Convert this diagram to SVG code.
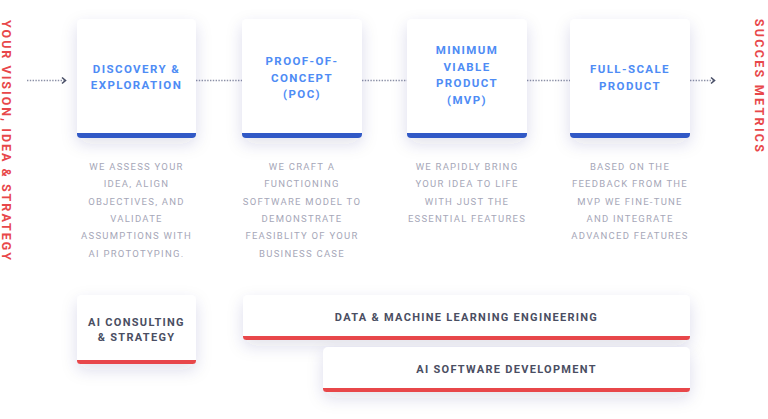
<svg xmlns="http://www.w3.org/2000/svg" width="768" height="419" viewBox="0 0 768 419">
<defs>
<filter id="sh" x="-40%" y="-40%" width="180%" height="190%">
<feDropShadow dx="0" dy="6" stdDeviation="8" flood-color="#2a3270" flood-opacity="0.14"/>
</filter>
<marker id="chev" markerUnits="userSpaceOnUse" markerWidth="8" markerHeight="10" refX="4.5" refY="3.5" orient="auto" overflow="visible">
<path d="M0.5,0.5 L4,3.5 L0.5,6.5" fill="none" stroke="#4a5068" stroke-width="1.6"/>
</marker>
</defs>
<style>
.card{fill:#ffffff;filter:url(#sh)}
.blue{fill:#3159c6}
.red{fill:#e8474a}
.ttl{font-family:Roboto,"Liberation Sans",sans-serif;font-weight:700;font-size:11.5px;letter-spacing:1.4px;fill:#4e8cf5;text-anchor:middle}
.dsc{font-family:Roboto,"Liberation Sans",sans-serif;font-weight:400;font-size:9.5px;letter-spacing:1.25px;fill:#a6a7b8;text-anchor:middle}
.svc{font-family:Roboto,"Liberation Sans",sans-serif;font-weight:700;font-size:11px;letter-spacing:1.3px;fill:#4a4e62;text-anchor:middle}
.side{font-family:Roboto,"Liberation Sans",sans-serif;font-weight:700;font-size:12.5px;fill:#e8474a;text-anchor:middle}
.dot{stroke:#8b90a6;stroke-width:1.3;stroke-dasharray:1.4 1.4;fill:none}
</style>

<text class="side" style="letter-spacing:2px" transform="translate(2,141) rotate(90)">YOUR VISION, IDEA &amp; STRATEGY</text>
<text class="side" style="letter-spacing:2.3px" transform="translate(755,86.5) rotate(90)">SUCCES METRICS</text>

<g id="connectors">
<line class="dot" x1="27" y1="80.5" x2="66" y2="80.5" marker-end="url(#chev)"/>
<line class="dot" x1="196" y1="80.5" x2="242" y2="80.5"/>
<line class="dot" x1="362" y1="80.5" x2="407" y2="80.5"/>
<line class="dot" x1="527" y1="80.5" x2="570" y2="80.5"/>
<line class="dot" x1="690" y1="80.5" x2="715" y2="80.5" marker-end="url(#chev)"/>
</g>

<g id="discovery">
<rect class="card" x="77" y="19" width="119" height="119" rx="5"/>
<path class="blue" d="M77,133 H196 V134 Q196,138 192,138 H81 Q77,138 77,134 Z"/>
<text class="ttl" x="136.5" y="72.5">DISCOVERY &amp;</text>
<text class="ttl" x="136.5" y="89">EXPLORATION</text>
<text class="dsc" x="136.5" y="170">WE ASSESS YOUR</text>
<text class="dsc" x="136.5" y="187.3">IDEA, ALIGN</text>
<text class="dsc" x="136.5" y="204.6">OBJECTIVES, AND</text>
<text class="dsc" x="136.5" y="221.9">VALIDATE</text>
<text class="dsc" x="136.5" y="239.2">ASSUMPTIONS WITH</text>
<text class="dsc" x="136.5" y="256.5">AI PROTOTYPING.</text>
</g>

<g id="poc">
<rect class="card" x="242" y="19" width="120" height="119" rx="5"/>
<path class="blue" d="M242,133 H362 V134 Q362,138 358,138 H246 Q242,138 242,134 Z"/>
<text class="ttl" x="302" y="65">PROOF-OF-</text>
<text class="ttl" x="302" y="81.5">CONCEPT</text>
<text class="ttl" x="302" y="98">(POC)</text>
<text class="dsc" x="302" y="170">WE CRAFT A</text>
<text class="dsc" x="302" y="187.3">FUNCTIONING</text>
<text class="dsc" x="302" y="204.6">SOFTWARE MODEL TO</text>
<text class="dsc" x="302" y="221.9">DEMONSTRATE</text>
<text class="dsc" x="302" y="239.2">FEASIBLITY OF YOUR</text>
<text class="dsc" x="302" y="256.5">BUSINESS CASE</text>
</g>

<g id="mvp">
<rect class="card" x="407" y="19" width="120" height="119" rx="5"/>
<path class="blue" d="M407,133 H527 V134 Q527,138 523,138 H411 Q407,138 407,134 Z"/>
<text class="ttl" x="467" y="54">MINIMUM</text>
<text class="ttl" x="467" y="70.5">VIABLE</text>
<text class="ttl" x="467" y="87">PRODUCT</text>
<text class="ttl" x="467" y="103.5">(MVP)</text>
<text class="dsc" x="467" y="170">WE RAPIDLY BRING</text>
<text class="dsc" x="467" y="187.3">YOUR IDEA TO LIFE</text>
<text class="dsc" x="467" y="204.6">WITH JUST THE</text>
<text class="dsc" x="467" y="221.9">ESSENTIAL FEATURES</text>
</g>

<g id="fullscale">
<rect class="card" x="570" y="19" width="120" height="119" rx="5"/>
<path class="blue" d="M570,133 H690 V134 Q690,138 686,138 H574 Q570,138 570,134 Z"/>
<text class="ttl" x="630" y="73">FULL-SCALE</text>
<text class="ttl" x="630" y="89.5">PRODUCT</text>
<text class="dsc" x="630" y="170">BASED ON THE</text>
<text class="dsc" x="630" y="187.3">FEEDBACK FROM THE</text>
<text class="dsc" x="630" y="204.6">MVP WE FINE-TUNE</text>
<text class="dsc" x="630" y="221.9">AND INTEGRATE</text>
<text class="dsc" x="630" y="239.2">ADVANCED FEATURES</text>
</g>

<g id="consulting">
<rect class="card" x="77" y="295" width="119" height="69" rx="5"/>
<path class="red" d="M77,360 H196 V360.5 Q196,364 192.5,364 H80.5 Q77,364 77,360.5 Z"/>
<text class="svc" x="136.5" y="326">AI CONSULTING</text>
<text class="svc" x="136.5" y="341">&amp; STRATEGY</text>
</g>

<g id="dataml">
<rect class="card" x="243" y="295" width="447" height="45" rx="5"/>
<path class="red" d="M243,336 H690 V336.5 Q690,340 686.5,340 H246.5 Q243,340 243,336.5 Z"/>
<text class="svc" x="466.5" y="321.3">DATA &amp; MACHINE LEARNING ENGINEERING</text>
</g>

<g id="aisoftware">
<rect class="card" x="323" y="347" width="367" height="45" rx="5"/>
<path class="red" d="M323,388 H690 V388.5 Q690,392 686.5,392 H326.5 Q323,392 323,388.5 Z"/>
<text class="svc" x="506.5" y="373.3">AI SOFTWARE DEVELOPMENT</text>
</g>
</svg>
